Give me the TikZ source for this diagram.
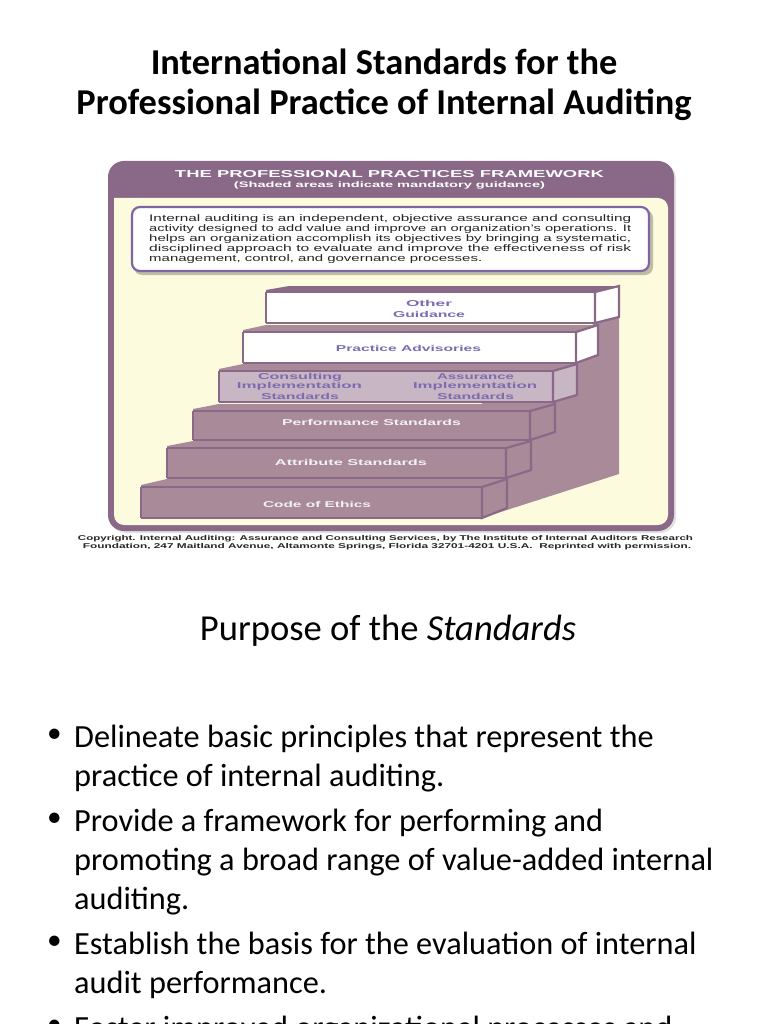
\documentclass[tikz,border=0pt]{standalone}
\usepackage{fontspec}
\usepackage{graphicx}
\setmainfont{Carlito}
\newfontfamily\figfont{Liberation Sans}
\definecolor{plum}{HTML}{8A6888}
\definecolor{cream}{HTML}{FDFBDD}
\definecolor{wall}{HTML}{A98A98}
\definecolor{pale}{HTML}{C9B6C5}
\definecolor{violet}{HTML}{7C6BB0}
\definecolor{boxedge}{HTML}{7E66A0}
\newcommand{\fw}[2]{\resizebox{#1pt}{\height}{#2}}
\newcommand{\topcol}{plum}
\newcommand{\stair}[9]{%
  % left,right,top,bottom,sidex,backy,sidebottom,backleft,fill
  \fill[\topcol] (#1,#3+1) -- (#1,#3-2) -- (#8,#6) -- (#5,#6) -- (#2,#3+1) -- cycle;
  \fill[#9] (#1,#3) rectangle (#2,#4);
  \draw[stepline,fill=#9] (#2,#3) -- (#5,#6) -- (#5,#7) -- (#2,#4) -- cycle;
  \draw[plum,line width=1.5pt] (#1,#3) -- (#1,#4);
  \draw[plum,line width=1.2pt] (#1,#4) -- (#2,#4);
  \draw[plum,line width=2.6pt] (#1,#3) -- (#2,#3);
}
\tikzset{
  x=1pt,y=-1pt,
  title/.style={font=\fontsize{36.4}{36.4}\selectfont\bfseries,inner sep=0pt},
  heading/.style={font=\fontsize{36.6}{36.6}\selectfont,inner sep=0pt},
  bodytext/.style={font=\fontsize{32.3}{32.3}\selectfont,inner sep=0pt,anchor=base west},
  bulletmark/.style={font=\fontsize{29.3}{29.3}\selectfont,inner sep=0pt,anchor=base west},
  head/.style={font=\figfont\bfseries\fontsize{#1}{#1}\selectfont,inner sep=0pt,text=white},
  head/.default=10,
  para/.style={font=\figfont\fontsize{9.5}{9.5}\selectfont,inner sep=0pt,anchor=west,text=black!85},
  lightlabel/.style={font=\figfont\bfseries\fontsize{8.5}{8.5}\selectfont,inner sep=0pt,text=white!95!black},
  purplelabel/.style={font=\figfont\bfseries\fontsize{8.5}{8.5}\selectfont,inner sep=0pt,text=violet},
  credit/.style={font=\figfont\bfseries\fontsize{7}{7}\selectfont,inner sep=0pt,text=black!85},
  stepline/.style={draw=plum,line width=2.2pt},
}
\begin{document}
\begin{tikzpicture}
\useasboundingbox (0,0) rectangle (768,1024);
\clip (0,0) rectangle (768,1024);
\fill[white] (0,0) rectangle (768,1024);
% title
\node[title] (t1) at (384,62) {International Standards for the};
\node[title] (t2) at (384,105) {Professional Practice of Internal Auditing};
% frame
\fill[black!12,rounded corners=16pt] (110,163) rectangle (676,533);
\fill[plum,rounded corners=16pt] (108,161) rectangle (674,531);
\fill[cream,rounded corners=10pt] (114,198) -- (114,525) -- (668,525) -- (668,198) [sharp corners] -- cycle;
\node[head=10] (fh) at (389.5,174) {\fw{429}{THE PROFESSIONAL PRACTICES FRAMEWORK}};
\node[head=8] (fs) at (389.5,185) {\fw{311}{(Shaded areas indicate mandatory guidance)}};
% definition box
\fill[black!25!cream,rounded corners=8pt] (134,210) rectangle (653,275);
\draw[boxedge,line width=2.2pt,fill=white,rounded corners=8pt] (132,207) rectangle (649,271);
\node[para] (p1) at (149,219) {\fw{482}{Internal auditing is an independent, objective assurance and consulting}};
\node[para] (p2) at (149,229) {\fw{482}{activity designed to add value and improve an organization’s operations. It}};
\node[para] (p3) at (149,239) {\fw{482}{helps an organization accomplish its objectives by bringing a systematic,}};
\node[para] (p4) at (149,249) {\fw{482}{disciplined approach to evaluate and improve the effectiveness of risk}};
\node[para] (p5) at (149,259) {\fw{333}{management, control, and governance processes.}};
% wall
\fill[wall] (595,323) -- (619,317) -- (619,474) -- (482,518) -- (482,400) -- cycle;
\draw[plum,line width=2.2pt] (596,287) -- (619,287) -- (619,317);
% stairs
\stair{266}{595}{292}{323}{619}{286}{317}{289}{white}
\renewcommand{\topcol}{wall}
\stair{243}{576}{332}{363}{598}{325}{355}{266}{white}
\stair{219}{553}{371}{402}{577}{364}{395}{243}{pale}
\stair{193}{530}{411}{440}{555}{404}{432}{219}{wall}
\stair{167}{506}{448}{478}{531}{441}{470}{193}{wall}
\stair{141}{482}{487}{518}{507}{479}{508}{167}{wall}
% labels
\node[purplelabel] (o1) at (429,303) {\fw{46}{Other}};
\node[purplelabel] (o2) at (429,314) {\fw{72}{Guidance}};
\node[purplelabel] (pa) at (408.5,348.5) {\fw{145}{Practice Advisories}};
\node[purplelabel] (c1) at (300,377) {\fw{84}{Consulting}};
\node[purplelabel] (c2) at (299.5,386.5) {\fw{125}{Implementation}};
\node[purplelabel] (c3) at (300,396.5) {\fw{78}{Standards}};
\node[purplelabel] (a1) at (475.5,377) {\fw{77}{Assurance}};
\node[purplelabel] (a2) at (475,386.5) {\fw{124}{Implementation}};
\node[purplelabel] (a3) at (475.5,396.5) {\fw{77}{Standards}};
\node[lightlabel] (ps) at (371.5,422) {\fw{179}{Performance Standards}};
\node[lightlabel] (as) at (351,462.5) {\fw{152}{Attribute Standards}};
\node[lightlabel] (ce) at (317,504) {\fw{108}{Code of Ethics}};
% credit
\node[credit] (cr1) at (385.5,539) {\fw{615}{Copyright. Internal Auditing: Assurance and Consulting Services, by The Institute of Internal Auditors Research}};
\node[credit] (cr2) at (387,546.5) {\fw{608}{Foundation, 247 Maitland Avenue, Altamonte Springs, Florida 32701-4201 U.S.A.\ \ Reprinted with permission.}};
% purpose
\node[heading] (pu) at (388,631) {Purpose of the \textit{Standards}};
% bullets
\foreach \nm/\yy in {b1/742,b2/826,b3/949,b4/1033}
  \node[bulletmark] (\nm) at (47,\yy) {•};
\node[bodytext] (l1) at (74,747) {Delineate basic principles that represent the};
\node[bodytext] (l2) at (74,786) {practice of internal auditing.};
\node[bodytext] (l3) at (74,831) {Provide a framework for performing and};
\node[bodytext] (l4) at (74,870) {promoting a broad range of value-added internal};
\node[bodytext] (l5) at (74,909) {auditing.};
\node[bodytext] (l6) at (74,954) {Establish the basis for the evaluation of internal};
\node[bodytext] (l7) at (74,993) {audit performance.};
\node[bodytext] (l8) at (74,1038) {Foster improved organizational processes and};
\end{tikzpicture}
\end{document}
